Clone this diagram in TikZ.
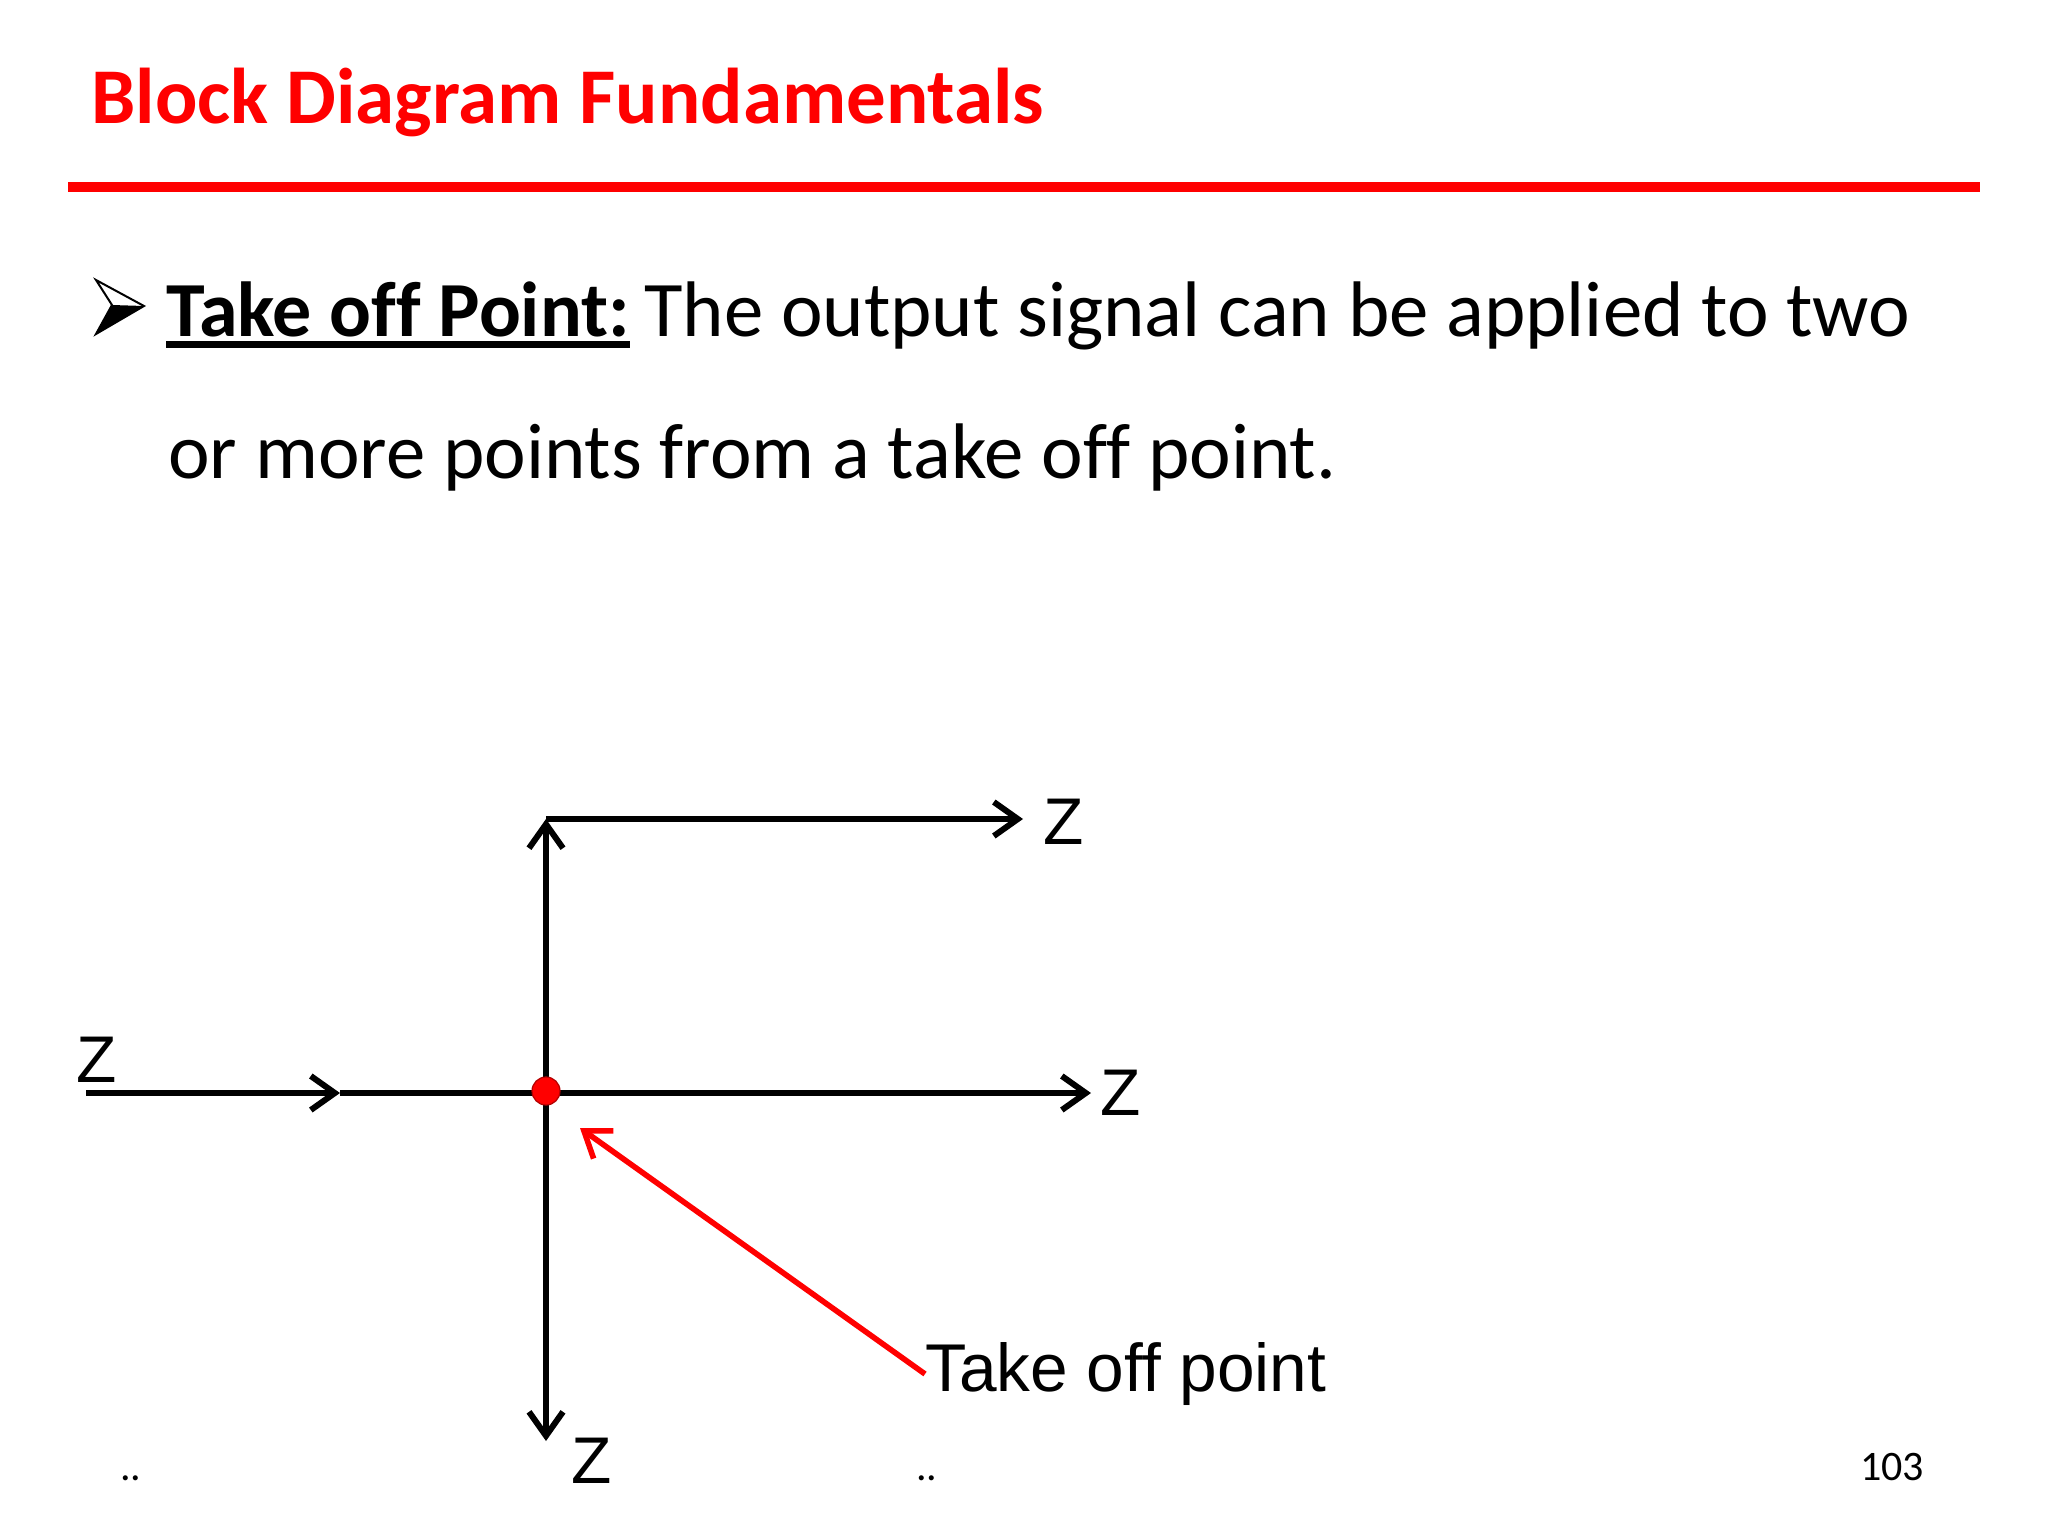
\documentclass[tikz,border=0pt]{standalone}
\usepackage{fontspec}
\setmainfont{Carlito}[Ligatures=NoCommon]
\newfontfamily\diagfont{Liberation Sans}
\usetikzlibrary{arrows.meta, positioning}
\definecolor{slidered}{RGB}{255,0,0}

\begin{document}
\begin{tikzpicture}[x=0.5pt, y=-0.5pt, every node/.style={inner sep=0pt}]
	% Styles for lines and labels
	\tikzset{sig/.style={line width=3pt, -{Straight Barb[length=12pt,width=17pt]}}}
	\tikzset{pointer/.style={draw=slidered, line width=2.8pt, -{Straight Barb[length=12pt,width=17pt]}}}
	\tikzset{zlabel/.style={font=\diagfont\fontsize{33}{40}\selectfont}}
	\tikzset{tpdot/.style={circle, fill=slidered, draw=slidered!70!black, line width=0.6pt, minimum size=14pt}}
	\tikzset{body/.style={anchor=base west, font=\fontsize{39.4}{47}\selectfont}}
	\tikzset{foot/.style={font=\fontsize{21}{25}\selectfont}}

	\useasboundingbox (0,0) rectangle (2048,1536);

	% Title and rule
	\node[anchor=base west, text=slidered, font=\bfseries\fontsize{39.5}{48}\selectfont] (title) at (91,123) {Block Diagram Fundamentals};
	\draw[slidered, line width=5pt] (68,187) -- (1980,187);

	% Bullet
	\fill (112,305) -- (144,306) -- (96,334) -- cycle;
	\draw[line width=1pt, line join=miter] (96,280) -- (144,306) -- (96,334) -- (112,305) -- cycle;

	% Text
	\node[body, font=\bfseries\fontsize{39}{47}\selectfont] (kw) at (166,336) {Take off Point:};
	\draw[line width=3.5pt] ([yshift=-4pt]kw.base west) -- ([yshift=-4pt]kw.base east);
	\node[body] (line1) at (644,336) {The output signal can be applied to two};
	\node[body] (line2) at (168,478) {or more points from a take off point.};

	% Signal points
	\coordinate (in) at (86,1093);
	\coordinate (mid) at (340,1093);
	\coordinate (tp) at (546,1093);
	\coordinate (up) at (546,819);
	\coordinate (upend) at (1023,819);
	\coordinate (rend) at (1091,1093);
	\coordinate (down) at (546,1441);
	\coordinate (ptr) at (580,1128);

	% Branches
	\draw[sig] (in) -- (mid);
	\draw[sig] (mid) -- (rend);
	\draw[sig] (tp) -- (up);
	\draw[sig] (up) -- (upend);
	\draw[sig] (tp) -- (down);
	\node[tpdot] (dot) at ([yshift=1pt]tp) {};

	% Labels
	\node[zlabel] (zin) at (97,1060) {Z};
	\node[zlabel] (zup) at (1064,822) {Z};
	\node[zlabel] (zright) at (1121,1093) {Z};
	\node[zlabel] (zdown) at (592,1461) {Z};
	\node[zlabel, anchor=west, font=\diagfont\fontsize{33.8}{40}\selectfont] (lbl) at (925,1374) {Take off point};
	\draw[pointer] (lbl.west) -- (ptr);

	% Footer
	\node[foot] (dotsl) at (131,1478) {..};
	\node[foot] (dotsm) at (927,1478) {..};
	\node[foot] (pagenum) at (1892,1467) {103};
\end{tikzpicture}
\end{document}
